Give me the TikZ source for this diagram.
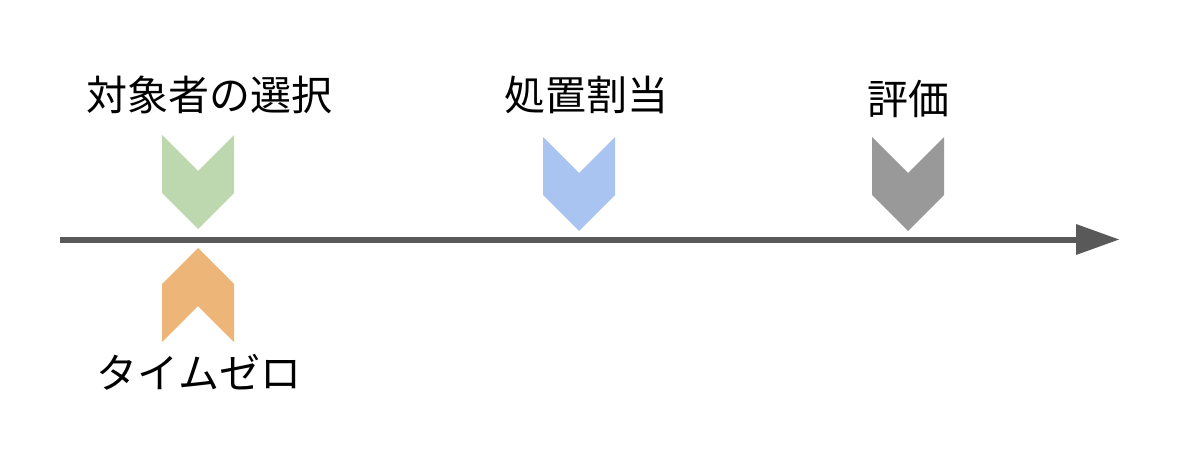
\documentclass[tikz,border=0pt]{standalone}
\usepackage{fontspec}
\setmainfont{Noto Sans CJK JP}
\definecolor{cgreen}{HTML}{BDD7AE}
\definecolor{corange}{HTML}{EDB578}
\definecolor{cblue}{HTML}{A9C4F0}
\definecolor{cgray}{HTML}{999999}
\definecolor{caxis}{HTML}{595959}
\begin{document}
\begin{tikzpicture}[x=1pt,y=-1pt,
  lbl/.style={font=\fontsize{41}{43}\selectfont, inner sep=0pt, anchor=center},
]
\useasboundingbox (0,0) rectangle (1180,460);
% axis
\coordinate (a0) at (60,239.5);
\coordinate (a1) at (1078,239.5);
\draw[caxis, line width=6pt] (a0) -- (a1);
\fill[caxis] (1076,224) -- (1119,239.5) -- (1076,255) -- cycle;
% down chevrons
\fill[cgreen] (162,135) -- (198,171) -- (234,135) -- (234,193) -- (198,229) -- (162,193) -- cycle;
\fill[cblue] (543,137) -- (579,173) -- (615,137) -- (615,195) -- (579,231) -- (543,195) -- cycle;
\fill[cgray] (872,137) -- (908,173) -- (944,137) -- (944,195) -- (908,231) -- (872,195) -- cycle;
% up chevron
\fill[corange] (162,342) -- (198,306) -- (234,342) -- (234,284) -- (198,248) -- (162,284) -- cycle;
% labels
\node[lbl] (t1) at (209,95) {対象者の選択};
\node[lbl] (t2) at (586,95) {処置割当};
\node[lbl] (t3) at (908,99) {評価};
\node[lbl] (t4) at (199,372) {タイムゼロ};
\end{tikzpicture}
\end{document}
